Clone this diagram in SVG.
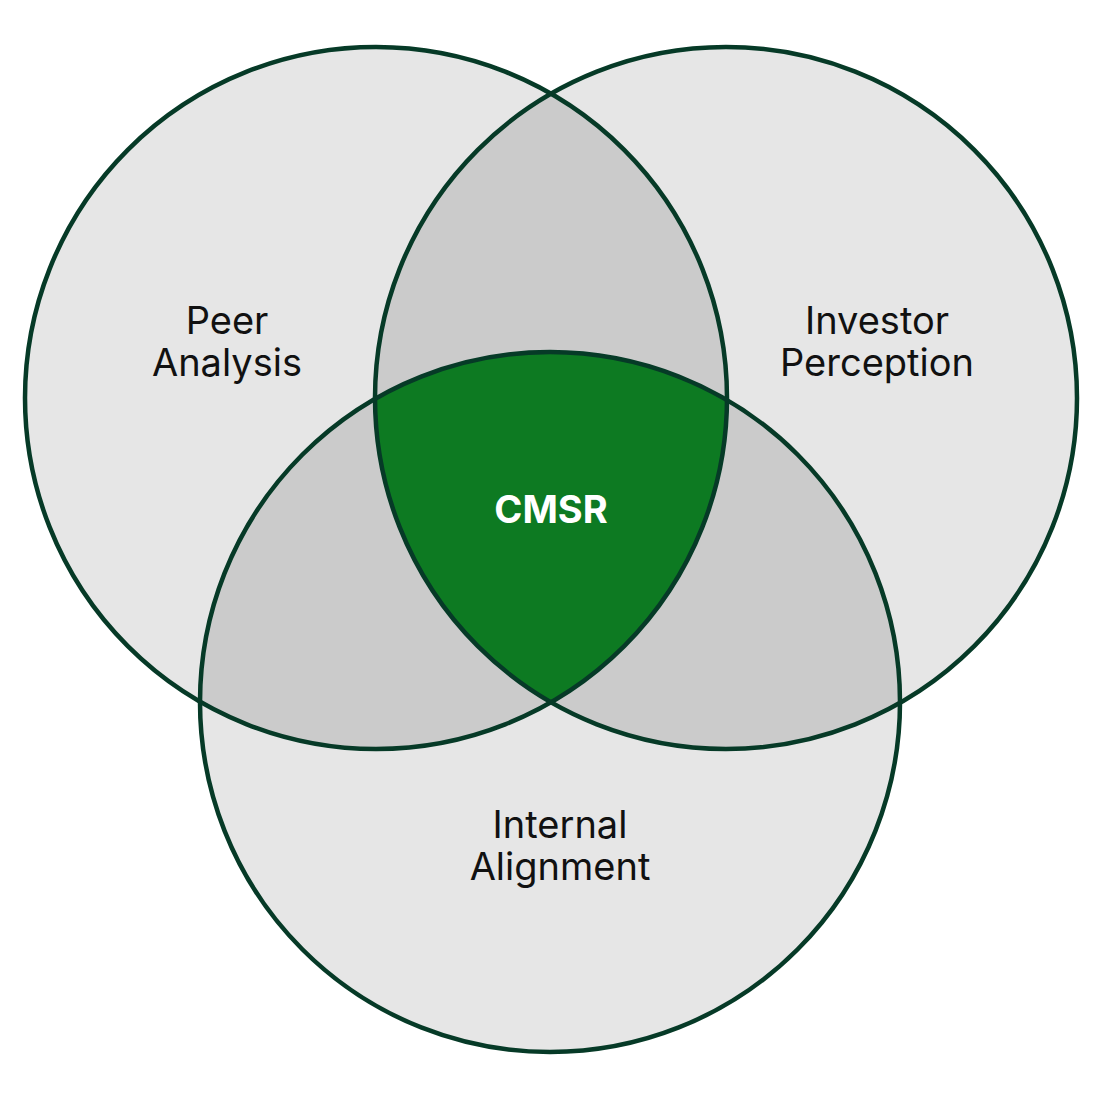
<svg xmlns="http://www.w3.org/2000/svg" width="1103" height="1102" viewBox="0 0 1103 1102">
<style>
.lbl{font-family:Inter,"Liberation Sans",sans-serif;font-size:38px;fill:#111;text-anchor:middle}
.ring{fill:none;stroke:#063a27;stroke-width:4.5}
</style>
<defs>
<clipPath id="cA"><circle cx="376" cy="398" r="351"/></clipPath>
<clipPath id="cB"><circle cx="726" cy="398" r="351"/></clipPath>
<clipPath id="cC"><circle cx="550" cy="702" r="350"/></clipPath>
</defs>
<rect width="1103" height="1102" fill="#fff"/>
<g id="fills">
<circle cx="376" cy="398" r="351" fill="#e6e6e6"/>
<circle cx="726" cy="398" r="351" fill="#e6e6e6"/>
<circle cx="550" cy="702" r="350" fill="#e6e6e6"/>
<g clip-path="url(#cA)"><circle cx="726" cy="398" r="351" fill="#cbcbcb"/><circle cx="550" cy="702" r="350" fill="#cbcbcb"/></g>
<g clip-path="url(#cB)"><circle cx="550" cy="702" r="350" fill="#cbcbcb"/></g>
<g clip-path="url(#cA)"><g clip-path="url(#cB)"><circle cx="550" cy="702" r="350" fill="#0d7a22"/></g></g>
</g>
<g id="peer"><circle class="ring" cx="376" cy="398" r="351"/><text class="lbl" x="227" y="334">Peer</text><text class="lbl" x="227" y="376">Analysis</text></g>
<g id="investor"><circle class="ring" cx="726" cy="398" r="351"/><text class="lbl" x="877" y="334">Investor</text><text class="lbl" x="877" y="376">Perception</text></g>
<g id="internal"><circle class="ring" cx="550" cy="702" r="350"/><text class="lbl" x="560" y="838">Internal</text><text class="lbl" x="560" y="880">Alignment</text></g>
<g id="cmsr"><text x="551" y="523" style="font-family:Inter,'Liberation Sans',sans-serif;font-size:38px;font-weight:bold;fill:#fff;text-anchor:middle">CMSR</text></g>
</svg>
